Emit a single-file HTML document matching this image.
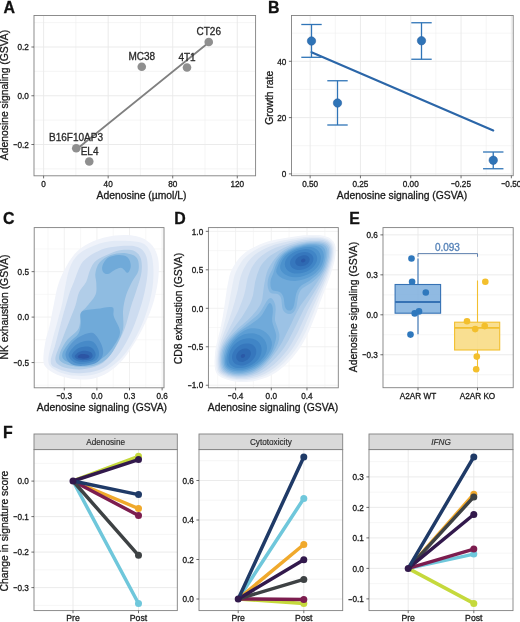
<!DOCTYPE html>
<html lang="en"><head><meta charset="utf-8"><title>Figure</title>
<style>html,body{margin:0;padding:0;background:#fff}svg{display:block}text{font-family:"Liberation Sans",Arial,Helvetica,sans-serif;stroke-width:0.3px}</style>
</head><body>
<svg width="520" height="622" viewBox="0 0 520 622">
<rect width="520" height="622" fill="#fff"/>
<g id="panelA">
<rect x="34" y="15.5" width="221.6" height="160.3" fill="#fff"/>
<line x1="75.88" y1="15.5" x2="75.88" y2="175.8" stroke="#eeeeee" stroke-width="0.6" />
<line x1="140.44" y1="15.5" x2="140.44" y2="175.8" stroke="#eeeeee" stroke-width="0.6" />
<line x1="205" y1="15.5" x2="205" y2="175.8" stroke="#eeeeee" stroke-width="0.6" />
<line x1="34" y1="22.62" x2="255.6" y2="22.62" stroke="#eeeeee" stroke-width="0.6" />
<line x1="34" y1="71.38" x2="255.6" y2="71.38" stroke="#eeeeee" stroke-width="0.6" />
<line x1="34" y1="120.12" x2="255.6" y2="120.12" stroke="#eeeeee" stroke-width="0.6" />
<line x1="34" y1="168.88" x2="255.6" y2="168.88" stroke="#eeeeee" stroke-width="0.6" />
<line x1="43.6" y1="15.5" x2="43.6" y2="175.8" stroke="#e9e9e9" stroke-width="0.9" />
<line x1="108.16" y1="15.5" x2="108.16" y2="175.8" stroke="#e9e9e9" stroke-width="0.9" />
<line x1="172.72" y1="15.5" x2="172.72" y2="175.8" stroke="#e9e9e9" stroke-width="0.9" />
<line x1="237.28" y1="15.5" x2="237.28" y2="175.8" stroke="#e9e9e9" stroke-width="0.9" />
<line x1="34" y1="47" x2="255.6" y2="47" stroke="#e9e9e9" stroke-width="0.9" />
<line x1="34" y1="95.75" x2="255.6" y2="95.75" stroke="#e9e9e9" stroke-width="0.9" />
<line x1="34" y1="144.5" x2="255.6" y2="144.5" stroke="#e9e9e9" stroke-width="0.9" />
<line x1="77.5" y1="148.5" x2="208.75" y2="42.5" stroke="#808080" stroke-width="1.7" stroke-linecap="round"/>
<circle cx="208.75" cy="42" r="4.3" fill="#8f8f8f"/>
<circle cx="187" cy="67.5" r="4.3" fill="#8f8f8f"/>
<circle cx="141.75" cy="66.75" r="4.3" fill="#8f8f8f"/>
<circle cx="76.25" cy="148.25" r="4.3" fill="#8f8f8f"/>
<circle cx="89.25" cy="161.5" r="4.3" fill="#8f8f8f"/>
<text x="208.75" y="34.5" font-size="10" text-anchor="middle" fill="#2a2a2a" stroke="#2a2a2a" >CT26</text>
<text x="187" y="61" font-size="10" text-anchor="middle" fill="#2a2a2a" stroke="#2a2a2a" >4T1</text>
<text x="141.75" y="60" font-size="10" text-anchor="middle" fill="#2a2a2a" stroke="#2a2a2a" >MC38</text>
<text x="76" y="141.25" font-size="10" text-anchor="middle" fill="#2a2a2a" stroke="#2a2a2a" >B16F10AP3</text>
<text x="89.6" y="154.5" font-size="10" text-anchor="middle" fill="#2a2a2a" stroke="#2a2a2a" >EL4</text>
<rect x="34" y="15.5" width="221.6" height="160.3" fill="none" stroke="#808080" stroke-width="0.9"/>
<line x1="43.6" y1="175.8" x2="43.6" y2="178.4" stroke="#333" stroke-width="0.7" />
<text x="43.6" y="186.8" font-size="8.2" text-anchor="middle" fill="#1a1a1a" stroke="#1a1a1a" >0</text>
<line x1="108.16" y1="175.8" x2="108.16" y2="178.4" stroke="#333" stroke-width="0.7" />
<text x="108.16" y="186.8" font-size="8.2" text-anchor="middle" fill="#1a1a1a" stroke="#1a1a1a" >40</text>
<line x1="172.72" y1="175.8" x2="172.72" y2="178.4" stroke="#333" stroke-width="0.7" />
<text x="172.72" y="186.8" font-size="8.2" text-anchor="middle" fill="#1a1a1a" stroke="#1a1a1a" >80</text>
<line x1="237.28" y1="175.8" x2="237.28" y2="178.4" stroke="#333" stroke-width="0.7" />
<text x="237.28" y="186.8" font-size="8.2" text-anchor="middle" fill="#1a1a1a" stroke="#1a1a1a" >120</text>
<line x1="31.4" y1="47" x2="34" y2="47" stroke="#333" stroke-width="0.7" />
<text x="28.8" y="50.2" font-size="8.2" text-anchor="end" fill="#1a1a1a" stroke="#1a1a1a" >0.2</text>
<line x1="31.4" y1="95.75" x2="34" y2="95.75" stroke="#333" stroke-width="0.7" />
<text x="28.8" y="98.95" font-size="8.2" text-anchor="end" fill="#1a1a1a" stroke="#1a1a1a" >0.0</text>
<line x1="31.4" y1="144.5" x2="34" y2="144.5" stroke="#333" stroke-width="0.7" />
<text x="28.8" y="147.7" font-size="8.2" text-anchor="end" fill="#1a1a1a" stroke="#1a1a1a" ><tspan font-size="6.7" dy="-0.5">−</tspan><tspan dy="0.5">0.2</tspan></text>
<text x="141.5" y="199.2" font-size="10.35" text-anchor="middle" fill="#1a1a1a" stroke="#1a1a1a" >Adenosine (µmol/L)</text>
<text transform="translate(7.8 95) rotate(-90)" font-size="10.35" text-anchor="middle" fill="#1a1a1a" stroke="#1a1a1a">Adenosine signaling (GSVA)</text>
<text x="3.4" y="12.9" font-size="15.9" text-anchor="start" fill="#111" stroke="#111" font-weight="bold">A</text>
</g>
<g id="panelB">
<rect x="291.5" y="15.5" width="221.7" height="160.2" fill="#fff"/>
<line x1="335.3" y1="15.5" x2="335.3" y2="175.7" stroke="#eeeeee" stroke-width="0.6" />
<line x1="385.6" y1="15.5" x2="385.6" y2="175.7" stroke="#eeeeee" stroke-width="0.6" />
<line x1="435.9" y1="15.5" x2="435.9" y2="175.7" stroke="#eeeeee" stroke-width="0.6" />
<line x1="486.2" y1="15.5" x2="486.2" y2="175.7" stroke="#eeeeee" stroke-width="0.6" />
<line x1="291.5" y1="145.75" x2="513.2" y2="145.75" stroke="#eeeeee" stroke-width="0.6" />
<line x1="291.5" y1="89.45" x2="513.2" y2="89.45" stroke="#eeeeee" stroke-width="0.6" />
<line x1="291.5" y1="33.15" x2="513.2" y2="33.15" stroke="#eeeeee" stroke-width="0.6" />
<line x1="310.15" y1="15.5" x2="310.15" y2="175.7" stroke="#e9e9e9" stroke-width="0.9" />
<line x1="360.45" y1="15.5" x2="360.45" y2="175.7" stroke="#e9e9e9" stroke-width="0.9" />
<line x1="410.75" y1="15.5" x2="410.75" y2="175.7" stroke="#e9e9e9" stroke-width="0.9" />
<line x1="461.05" y1="15.5" x2="461.05" y2="175.7" stroke="#e9e9e9" stroke-width="0.9" />
<line x1="511.35" y1="15.5" x2="511.35" y2="175.7" stroke="#e9e9e9" stroke-width="0.9" />
<line x1="291.5" y1="173.9" x2="513.2" y2="173.9" stroke="#e9e9e9" stroke-width="0.9" />
<line x1="291.5" y1="117.6" x2="513.2" y2="117.6" stroke="#e9e9e9" stroke-width="0.9" />
<line x1="291.5" y1="61.3" x2="513.2" y2="61.3" stroke="#e9e9e9" stroke-width="0.9" />
<line x1="311.5" y1="52.2" x2="493.25" y2="130.5" stroke="#2b66a8" stroke-width="2.1" stroke-linecap="round"/>
<line x1="311.5" y1="24.5" x2="311.5" y2="57.3" stroke="#2f74b7" stroke-width="1.3" />
<line x1="301.3" y1="24.5" x2="321.7" y2="24.5" stroke="#2f74b7" stroke-width="1.3" />
<line x1="301.3" y1="57.3" x2="321.7" y2="57.3" stroke="#2f74b7" stroke-width="1.3" />
<circle cx="311.5" cy="41" r="4.2" fill="#2f74b7" stroke="#2a63a4" stroke-width="0.6"/>
<line x1="337.5" y1="80.75" x2="337.5" y2="125" stroke="#2f74b7" stroke-width="1.3" />
<line x1="327.3" y1="80.75" x2="347.7" y2="80.75" stroke="#2f74b7" stroke-width="1.3" />
<line x1="327.3" y1="125" x2="347.7" y2="125" stroke="#2f74b7" stroke-width="1.3" />
<circle cx="337.5" cy="103" r="4.2" fill="#2f74b7" stroke="#2a63a4" stroke-width="0.6"/>
<line x1="421.5" y1="22.75" x2="421.5" y2="59.25" stroke="#2f74b7" stroke-width="1.3" />
<line x1="411.3" y1="22.75" x2="431.7" y2="22.75" stroke="#2f74b7" stroke-width="1.3" />
<line x1="411.3" y1="59.25" x2="431.7" y2="59.25" stroke="#2f74b7" stroke-width="1.3" />
<circle cx="421.5" cy="40.75" r="4.2" fill="#2f74b7" stroke="#2a63a4" stroke-width="0.6"/>
<line x1="493.25" y1="152" x2="493.25" y2="168.75" stroke="#2f74b7" stroke-width="1.3" />
<line x1="483.05" y1="152" x2="503.45" y2="152" stroke="#2f74b7" stroke-width="1.3" />
<line x1="483.05" y1="168.75" x2="503.45" y2="168.75" stroke="#2f74b7" stroke-width="1.3" />
<circle cx="493.25" cy="160.25" r="4.2" fill="#2f74b7" stroke="#2a63a4" stroke-width="0.6"/>
<rect x="291.5" y="15.5" width="221.7" height="160.2" fill="none" stroke="#808080" stroke-width="0.9"/>
<line x1="310.15" y1="175.7" x2="310.15" y2="178.3" stroke="#333" stroke-width="0.7" />
<text x="310.15" y="186.7" font-size="8.2" text-anchor="middle" fill="#1a1a1a" stroke="#1a1a1a" >0.50</text>
<line x1="360.45" y1="175.7" x2="360.45" y2="178.3" stroke="#333" stroke-width="0.7" />
<text x="360.45" y="186.7" font-size="8.2" text-anchor="middle" fill="#1a1a1a" stroke="#1a1a1a" >0.25</text>
<line x1="410.75" y1="175.7" x2="410.75" y2="178.3" stroke="#333" stroke-width="0.7" />
<text x="410.75" y="186.7" font-size="8.2" text-anchor="middle" fill="#1a1a1a" stroke="#1a1a1a" >0.00</text>
<line x1="461.05" y1="175.7" x2="461.05" y2="178.3" stroke="#333" stroke-width="0.7" />
<text x="461.05" y="186.7" font-size="8.2" text-anchor="middle" fill="#1a1a1a" stroke="#1a1a1a" ><tspan font-size="6.7" dy="-0.5">−</tspan><tspan dy="0.5">0.25</tspan></text>
<line x1="511.35" y1="175.7" x2="511.35" y2="178.3" stroke="#333" stroke-width="0.7" />
<text x="511.35" y="186.7" font-size="8.2" text-anchor="middle" fill="#1a1a1a" stroke="#1a1a1a" ><tspan font-size="6.7" dy="-0.5">−</tspan><tspan dy="0.5">0.50</tspan></text>
<line x1="288.9" y1="173.9" x2="291.5" y2="173.9" stroke="#333" stroke-width="0.7" />
<text x="286.3" y="177.1" font-size="8.2" text-anchor="end" fill="#1a1a1a" stroke="#1a1a1a" >0</text>
<line x1="288.9" y1="117.6" x2="291.5" y2="117.6" stroke="#333" stroke-width="0.7" />
<text x="286.3" y="120.8" font-size="8.2" text-anchor="end" fill="#1a1a1a" stroke="#1a1a1a" >20</text>
<line x1="288.9" y1="61.3" x2="291.5" y2="61.3" stroke="#333" stroke-width="0.7" />
<text x="286.3" y="64.5" font-size="8.2" text-anchor="end" fill="#1a1a1a" stroke="#1a1a1a" >40</text>
<text x="402" y="199.2" font-size="10.35" text-anchor="middle" fill="#1a1a1a" stroke="#1a1a1a" >Adenosine signaling (GSVA)</text>
<text transform="translate(273.3 97.8) rotate(-90)" font-size="10.35" text-anchor="middle" fill="#1a1a1a" stroke="#1a1a1a">Growth rate</text>
<text x="268" y="12.5" font-size="15.9" text-anchor="start" fill="#111" stroke="#111" font-weight="bold">B</text>
</g>
<g id="panelC">
<rect x="34.2" y="227.6" width="129.8" height="160.2" fill="#fff"/>
<line x1="47.99" y1="227.6" x2="47.99" y2="387.8" stroke="#f4f4f4" stroke-width="0.6" />
<line x1="80.59" y1="227.6" x2="80.59" y2="387.8" stroke="#f4f4f4" stroke-width="0.6" />
<line x1="113.21" y1="227.6" x2="113.21" y2="387.8" stroke="#f4f4f4" stroke-width="0.6" />
<line x1="145.81" y1="227.6" x2="145.81" y2="387.8" stroke="#f4f4f4" stroke-width="0.6" />
<line x1="34.2" y1="248.93" x2="164" y2="248.93" stroke="#f4f4f4" stroke-width="0.6" />
<line x1="34.2" y1="294.38" x2="164" y2="294.38" stroke="#f4f4f4" stroke-width="0.6" />
<line x1="34.2" y1="339.83" x2="164" y2="339.83" stroke="#f4f4f4" stroke-width="0.6" />
<line x1="34.2" y1="385.28" x2="164" y2="385.28" stroke="#f4f4f4" stroke-width="0.6" />
<line x1="64.29" y1="227.6" x2="64.29" y2="387.8" stroke="#efefef" stroke-width="0.9" />
<line x1="96.9" y1="227.6" x2="96.9" y2="387.8" stroke="#efefef" stroke-width="0.9" />
<line x1="129.51" y1="227.6" x2="129.51" y2="387.8" stroke="#efefef" stroke-width="0.9" />
<line x1="162.12" y1="227.6" x2="162.12" y2="387.8" stroke="#efefef" stroke-width="0.9" />
<line x1="34.2" y1="271.65" x2="164" y2="271.65" stroke="#efefef" stroke-width="0.9" />
<line x1="34.2" y1="317.1" x2="164" y2="317.1" stroke="#efefef" stroke-width="0.9" />
<line x1="34.2" y1="362.55" x2="164" y2="362.55" stroke="#efefef" stroke-width="0.9" />
<path d="M43.38 359.62C43.23 355.41 44.21 348.03 45.23 342.38C46.26 336.74 48.1 332.13 49.54 325.77C50.97 319.41 52.41 311.05 53.85 304.23C55.28 297.41 56.26 290.79 58.15 284.85C60.05 278.9 62.21 273.97 65.23 268.54C68.26 263.1 71.74 256.74 76.31 252.23C80.87 247.72 86.21 244.23 92.62 241.46C99.03 238.69 107.44 236.49 114.77 235.62C122.1 234.74 130.67 234.9 136.62 236.23C142.56 237.56 146.92 240.08 150.46 243.62C154 247.15 156.51 251.97 157.85 257.46C159.18 262.95 159.03 269.67 158.46 276.54C157.9 283.41 156.26 291.82 154.46 298.69C152.67 305.56 150.41 311.41 147.69 317.77C144.97 324.13 141.79 330.49 138.15 336.85C134.51 343.21 130.21 350.44 125.85 355.92C121.49 361.41 117.03 366.08 112 369.77C106.97 373.46 101.59 376.49 95.69 378.08C89.79 379.67 83.03 379.87 76.62 379.31C70.21 378.74 62.31 376.64 57.23 374.69C52.15 372.74 48.46 370.13 46.15 367.62C43.85 365.1 43.54 363.82 43.38 359.62Z" fill="#f0f3fa"/>
<path d="M48.31 361.46C47.85 357 50.15 349.41 51.69 342.69C53.23 335.97 55.79 327.67 57.54 321.15C59.28 314.64 60.92 309.1 62.15 303.62C63.38 298.13 63.74 293.97 64.92 288.23C66.1 282.49 67.18 274.59 69.23 269.15C71.28 263.72 73.64 259.31 77.23 255.62C80.82 251.92 85.28 249.41 90.77 247C96.26 244.59 102.21 241.97 110.15 241.15C118.1 240.33 131.95 240.64 138.46 242.08C144.97 243.51 146.77 245.82 149.23 249.77C151.69 253.72 152.72 259.26 153.23 265.77C153.74 272.28 153.49 280.9 152.31 288.85C151.13 296.79 148.72 305.77 146.15 313.46C143.59 321.15 140.62 328.08 136.92 335C133.23 341.92 128.72 349.41 124 355C119.28 360.59 114.26 365.15 108.62 368.54C102.97 371.92 96.72 374.23 90.15 375.31C83.59 376.38 75.18 375.97 69.23 375C63.28 374.03 57.95 371.72 54.46 369.46C50.97 367.21 48.77 365.92 48.31 361.46Z" fill="#e2eaf6"/>
<path d="M50.77 361.15C50.77 357.26 53.69 350.59 55.38 344.23C57.08 337.87 59.13 329.67 60.92 323C62.72 316.33 64.67 309.41 66.15 304.23C67.64 299.05 68.51 295.77 69.85 291.92C71.18 288.08 72.62 285.1 74.15 281.15C75.69 277.21 77.44 271.67 79.08 268.23C80.72 264.79 81.38 263.1 84 260.54C86.62 257.97 90.41 255.05 94.77 252.85C99.13 250.64 103.38 248.38 110.15 247.31C116.92 246.23 129.49 245.21 135.38 246.38C141.28 247.56 143.49 250.38 145.54 254.38C147.59 258.38 147.85 264.13 147.69 270.38C147.54 276.64 146.15 284.74 144.62 291.92C143.08 299.1 141.03 306.03 138.46 313.46C135.9 320.9 132.82 329.36 129.23 336.54C125.64 343.72 121.28 351.26 116.92 356.54C112.56 361.82 108.21 365.51 103.08 368.23C97.95 370.95 91.79 372.18 86.15 372.85C80.51 373.51 74.36 373.1 69.23 372.23C64.1 371.36 58.46 369.46 55.38 367.62C52.31 365.77 50.77 365.05 50.77 361.15Z" fill="#cddcf0"/>
<path d="M55.38 358.08C55.74 354.08 59.33 347 61.54 341.15C63.74 335.31 66.31 328.9 68.62 323C70.92 317.1 73.64 310.9 75.38 305.77C77.13 300.64 77.28 296.18 79.08 292.23C80.87 288.28 84.31 285.82 86.15 282.08C88 278.33 88.46 273.36 90.15 269.77C91.85 266.18 92.97 263.26 96.31 260.54C99.64 257.82 105.95 255.21 110.15 253.46C114.36 251.72 117.59 250.54 121.54 250.08C125.49 249.62 130.67 249.36 133.85 250.69C137.03 252.03 139.33 254.54 140.62 258.08C141.9 261.62 142.15 266.79 141.54 271.92C140.92 277.05 138.72 282.95 136.92 288.85C135.13 294.74 132.82 300.64 130.77 307.31C128.72 313.97 127.18 322.18 124.62 328.85C122.05 335.51 118.97 341.67 115.38 347.31C111.79 352.95 107.95 359.1 103.08 362.69C98.21 366.28 91.54 367.82 86.15 368.85C80.77 369.87 75.23 369.46 70.77 368.85C66.31 368.23 61.95 366.95 59.38 365.15C56.82 363.36 55.03 362.08 55.38 358.08Z" fill="#b1cde8"/>
<path d="M95.38 273.46C95.9 270.03 96.82 265.77 99.38 262.69C101.95 259.62 106.31 256.59 110.77 255C115.23 253.41 121.79 252.64 126.15 253.15C130.51 253.67 134.87 255.21 136.92 258.08C138.97 260.95 139.23 266.54 138.46 270.38C137.69 274.23 134.36 277.05 132.31 281.15C130.26 285.26 127.69 290.13 126.15 295C124.62 299.87 123.59 304.74 123.08 310.38C122.56 316.03 124.1 323.21 123.08 328.85C122.05 334.49 119.49 339.36 116.92 344.23C114.36 349.1 111.54 354.49 107.69 358.08C103.85 361.67 99.23 364.38 93.85 365.77C88.46 367.15 80.77 367 75.38 366.38C70 365.77 64.21 363.97 61.54 362.08C58.87 360.18 58.62 358.49 59.38 355C60.15 351.51 62.97 345.51 66.15 341.15C69.33 336.79 76 333.46 78.46 328.85C80.92 324.23 79.64 317.05 80.92 313.46C82.21 309.87 83.74 310.38 86.15 307.31C88.56 304.23 93.69 299 95.38 295C97.08 291 96.31 286.9 96.31 283.31C96.31 279.72 94.87 276.9 95.38 273.46Z" fill="#8fbce1"/>
<path d="M102.46 265.77C103.23 263.46 105.03 259.87 107.69 258.08C110.36 256.28 115.13 255.1 118.46 255C121.79 254.9 125.64 255.67 127.69 257.46C129.74 259.26 130.77 263.21 130.77 265.77C130.77 268.33 129.23 272.49 127.69 272.85C126.15 273.21 123.85 268.33 121.54 267.92C119.23 267.51 116.15 269.36 113.85 270.38C111.54 271.41 109.49 273.82 107.69 274.08C105.9 274.33 103.95 273.31 103.08 271.92C102.21 270.54 101.69 268.08 102.46 265.77Z" fill="#70aad9"/>
<path d="M81.54 311.92C84.21 309.62 91.79 309.62 96.92 308.85C102.05 308.08 109.49 306.03 112.31 307.31C115.13 308.59 112.56 312.44 113.85 316.54C115.13 320.64 120 327.05 120 331.92C120 336.79 116.41 341.67 113.85 345.77C111.28 349.87 108.21 353.62 104.62 356.54C101.03 359.46 96.92 362.03 92.31 363.31C87.69 364.59 81.54 364.74 76.92 364.23C72.31 363.72 67.03 362.03 64.62 360.23C62.21 358.44 61.69 356.38 62.46 353.46C63.23 350.54 66.56 346.03 69.23 342.69C71.9 339.36 76.51 336.79 78.46 333.46C80.41 330.13 80.41 326.28 80.92 322.69C81.44 319.1 78.87 314.23 81.54 311.92Z" fill="#70aad9"/>
<path d="M65.54 355C65.38 351.67 68.36 347.31 70.77 344.23C73.18 341.15 76.41 338.44 80 336.54C83.59 334.64 88.87 331.82 92.31 332.85C95.74 333.87 98.82 339.26 100.62 342.69C102.41 346.13 103.59 350.23 103.08 353.46C102.56 356.69 100.62 360.03 97.54 362.08C94.46 364.13 88.92 365.41 84.62 365.77C80.31 366.13 74.87 366.03 71.69 364.23C68.51 362.44 65.69 358.33 65.54 355Z" fill="#5a98d0"/>
<path d="M68.62 355.31C68.46 352.64 71.54 348.95 73.85 346.69C76.15 344.44 79.28 342.59 82.46 341.77C85.64 340.95 90.21 340.23 92.92 341.77C95.64 343.31 98.1 348.03 98.77 351C99.44 353.97 99.03 357.51 96.92 359.62C94.82 361.72 89.85 363.1 86.15 363.62C82.46 364.13 77.69 364.08 74.77 362.69C71.85 361.31 68.77 357.97 68.62 355.31Z" fill="#478ac8"/>
<path d="M71.69 355.62C71.9 353.77 74.56 350.64 76.62 349.15C78.67 347.67 81.44 346.9 84 346.69C86.56 346.49 90.05 346.64 92 347.92C93.95 349.21 95.59 352.38 95.69 354.38C95.79 356.38 94.67 358.69 92.62 359.92C90.56 361.15 86.26 361.72 83.38 361.77C80.51 361.82 77.33 361.26 75.38 360.23C73.44 359.21 71.49 357.46 71.69 355.62Z" fill="#3a7abe"/>
<path d="M74.77 355.92C75.08 354.74 77.33 352.79 79.08 351.92C80.82 351.05 83.28 350.64 85.23 350.69C87.18 350.74 89.54 351.36 90.77 352.23C92 353.1 92.82 354.74 92.62 355.92C92.41 357.1 91.18 358.59 89.54 359.31C87.9 360.03 84.82 360.28 82.77 360.23C80.72 360.18 78.56 359.72 77.23 359C75.9 358.28 74.46 357.1 74.77 355.92Z" fill="#3168b2"/>
<path d="M77.85 356.23C78.26 355.56 79.9 354.33 81.54 354.08C83.18 353.82 86.41 354.18 87.69 354.69C88.97 355.21 89.85 356.49 89.23 357.15C88.62 357.82 85.69 358.54 84 358.69C82.31 358.85 80.1 358.49 79.08 358.08C78.05 357.67 77.44 356.9 77.85 356.23Z" fill="#2c55a4"/>
<rect x="34.2" y="227.6" width="129.8" height="160.2" fill="none" stroke="#808080" stroke-width="0.9"/>
<line x1="64.29" y1="387.8" x2="64.29" y2="390.4" stroke="#333" stroke-width="0.7" />
<text x="64.29" y="398.8" font-size="8.2" text-anchor="middle" fill="#1a1a1a" stroke="#1a1a1a" ><tspan font-size="6.7" dy="-0.5">−</tspan><tspan dy="0.5">0.3</tspan></text>
<line x1="96.9" y1="387.8" x2="96.9" y2="390.4" stroke="#333" stroke-width="0.7" />
<text x="96.9" y="398.8" font-size="8.2" text-anchor="middle" fill="#1a1a1a" stroke="#1a1a1a" >0.0</text>
<line x1="129.51" y1="387.8" x2="129.51" y2="390.4" stroke="#333" stroke-width="0.7" />
<text x="129.51" y="398.8" font-size="8.2" text-anchor="middle" fill="#1a1a1a" stroke="#1a1a1a" >0.3</text>
<line x1="162.12" y1="387.8" x2="162.12" y2="390.4" stroke="#333" stroke-width="0.7" />
<text x="162.12" y="398.8" font-size="8.2" text-anchor="middle" fill="#1a1a1a" stroke="#1a1a1a" >0.6</text>
<line x1="31.6" y1="271.65" x2="34.2" y2="271.65" stroke="#333" stroke-width="0.7" />
<text x="29" y="274.85" font-size="8.2" text-anchor="end" fill="#1a1a1a" stroke="#1a1a1a" >0.5</text>
<line x1="31.6" y1="317.1" x2="34.2" y2="317.1" stroke="#333" stroke-width="0.7" />
<text x="29" y="320.3" font-size="8.2" text-anchor="end" fill="#1a1a1a" stroke="#1a1a1a" >0.0</text>
<line x1="31.6" y1="362.55" x2="34.2" y2="362.55" stroke="#333" stroke-width="0.7" />
<text x="29" y="365.75" font-size="8.2" text-anchor="end" fill="#1a1a1a" stroke="#1a1a1a" ><tspan font-size="6.7" dy="-0.5">−</tspan><tspan dy="0.5">0.5</tspan></text>
<text x="101.9" y="411.4" font-size="10.35" text-anchor="middle" fill="#1a1a1a" stroke="#1a1a1a" >Adenosine signaling (GSVA)</text>
<text transform="translate(7.8 307) rotate(-90)" font-size="10.35" text-anchor="middle" fill="#1a1a1a" stroke="#1a1a1a">NK exhaustion (GSVA)</text>
<text x="2.9" y="224.4" font-size="15.9" text-anchor="start" fill="#111" stroke="#111" font-weight="bold">C</text>
</g>
<g id="panelD">
<rect x="208.4" y="227.6" width="129.9" height="160.2" fill="#fff"/>
<line x1="217.78" y1="227.6" x2="217.78" y2="387.8" stroke="#f4f4f4" stroke-width="0.6" />
<line x1="253.46" y1="227.6" x2="253.46" y2="387.8" stroke="#f4f4f4" stroke-width="0.6" />
<line x1="289.14" y1="227.6" x2="289.14" y2="387.8" stroke="#f4f4f4" stroke-width="0.6" />
<line x1="324.82" y1="227.6" x2="324.82" y2="387.8" stroke="#f4f4f4" stroke-width="0.6" />
<line x1="208.4" y1="250.59" x2="338.3" y2="250.59" stroke="#f4f4f4" stroke-width="0.6" />
<line x1="208.4" y1="289.06" x2="338.3" y2="289.06" stroke="#f4f4f4" stroke-width="0.6" />
<line x1="208.4" y1="327.54" x2="338.3" y2="327.54" stroke="#f4f4f4" stroke-width="0.6" />
<line x1="208.4" y1="366.01" x2="338.3" y2="366.01" stroke="#f4f4f4" stroke-width="0.6" />
<line x1="235.62" y1="227.6" x2="235.62" y2="387.8" stroke="#efefef" stroke-width="0.9" />
<line x1="271.3" y1="227.6" x2="271.3" y2="387.8" stroke="#efefef" stroke-width="0.9" />
<line x1="306.98" y1="227.6" x2="306.98" y2="387.8" stroke="#efefef" stroke-width="0.9" />
<line x1="208.4" y1="231.35" x2="338.3" y2="231.35" stroke="#efefef" stroke-width="0.9" />
<line x1="208.4" y1="269.82" x2="338.3" y2="269.82" stroke="#efefef" stroke-width="0.9" />
<line x1="208.4" y1="308.3" x2="338.3" y2="308.3" stroke="#efefef" stroke-width="0.9" />
<line x1="208.4" y1="346.78" x2="338.3" y2="346.78" stroke="#efefef" stroke-width="0.9" />
<line x1="208.4" y1="385.25" x2="338.3" y2="385.25" stroke="#efefef" stroke-width="0.9" />
<defs><clipPath id="clipD"><rect x="208.5" y="227.5" width="129.8" height="160.7"/></clipPath></defs>
<g clip-path="url(#clipD)"><g>
<path d="M218.5 375.5L217.0 373.9L215.9 372.0L215.1 369.5L214.7 366.5L214.5 362.2L214.7 357.8L215.1 352.5L215.9 347.0L216.7 343.2L220.0 330.2L222.6 317.5L224.2 307.4L227.0 288.0L229.4 276.0L230.6 272.2L233.0 267.2L235.9 262.5L239.1 258.2L241.8 255.4L245.8 252.1L250.0 249.3L253.5 247.4L259.0 244.7L263.5 242.9L267.8 241.5L275.0 239.8L283.8 238.2L294.8 236.4L303.5 235.3L311.8 234.9L319.0 235.1L323.8 235.8L328.2 237.3L329.8 238.1L331.2 239.2L333.4 241.5L334.9 244.2L335.6 247.2L335.8 251.0L335.5 255.0L334.6 260.5L332.9 267.2L330.7 274.2L327.9 282.2L319.5 304.1L316.9 311.8L309.1 331.2L305.3 338.8L300.6 347.0L297.6 351.2L292.9 357.2L290.2 360.2L285.2 365.2L279.8 369.8L276.0 372.6L271.2 375.3L267.2 377.2L261.8 379.1L256.5 380.6L252.2 381.4L245.8 382.0L240.0 382.1L235.8 381.7L231.2 380.8L226.0 379.3L221.5 377.4Z" fill="#f1f4fa"/>
<path d="M219.8 374.3L218.3 372.8L217.3 371.0L216.7 368.8L216.3 365.8L216.2 361.5L216.4 356.8L216.9 351.8L217.7 347.2L218.8 342.5L222.9 328.8L225.8 317.2L228.7 304.5L233.4 280.0L234.5 275.5L235.8 272.0L238.0 267.5L241.0 262.5L243.1 259.5L246.3 256.2L251.2 252.5L254.7 250.2L260.2 247.2L264.8 245.2L268.5 243.9L281.2 240.8L291.8 238.9L301.2 237.5L305.0 237.0L312.5 236.6L318.5 236.8L323.2 237.5L327.2 238.7L330.1 240.5L332.2 242.8L333.5 245.2L334.1 248.0L334.2 251.8L333.7 256.8L332.9 261.0L331.4 266.5L329.1 273.5L326.4 281.0L320.7 294.8L309.5 323.1L306.6 330.0L302.3 338.5L298.6 345.0L295.8 349.2L291.2 355.2L287.9 359.0L283.7 363.2L278.8 367.5L274.8 370.5L270.7 373.0L266.2 375.3L261.8 377.0L256.8 378.6L252.0 379.6L246.2 380.3L240.5 380.4L236.5 380.1L232.0 379.3L226.8 377.9L222.8 376.2Z" fill="#e5ecf6"/>
<path d="M220.8 373.4L219.4 372.0L218.5 370.3L217.9 368.0L217.6 365.0L217.5 360.8L217.7 356.2L218.3 351.5L219.1 347.5L221.2 340.3L228.9 320.0L232.1 310.5L234.8 301.5L237.8 289.8L239.4 281.2L240.9 275.8L242.6 271.2L244.0 268.2L246.5 263.9L248.3 261.2L251.8 257.5L254.5 255.1L258.0 252.5L261.8 250.3L266.8 247.8L270.4 246.2L275.2 244.6L282.2 242.7L290.1 241.0L299.2 239.4L305.0 238.6L311.8 238.0L317.8 238.1L322.5 238.6L326.5 239.8L329.2 241.4L331.2 243.5L332.3 245.8L332.9 248.5L333.0 252.0L332.5 256.8L331.7 260.8L330.1 266.5L328.0 272.7L325.8 278.5L323.0 285.0L311.3 310.8L303.0 330.0L300.0 335.9L295.2 344.5L292.3 349.0L288.5 354.0L282.0 361.2L277.1 365.8L273.5 368.5L269.8 371.0L265.0 373.7L260.8 375.5L256.5 377.0L251.8 378.1L246.5 378.9L241.0 379.0L236.8 378.9L232.2 378.2L227.5 376.9L223.7 375.2Z" fill="#d6e2f2"/>
<path d="M222.0 372.7L220.6 371.2L219.7 369.5L219.1 367.0L218.7 363.5L218.6 359.5L218.9 355.5L219.5 351.2L220.4 347.5L221.6 344.0L223.4 340.0L238.1 311.0L242.0 301.2L244.1 295.0L245.6 288.8L246.9 281.5L247.7 278.0L248.6 275.2L250.6 270.0L251.8 267.5L253.5 264.7L256.4 260.8L258.5 258.5L262.0 255.4L266.7 252.2L270.7 250.0L275.5 247.8L281.5 245.8L292.5 242.6L299.0 241.1L304.0 240.3L310.5 239.6L315.0 239.5L319.5 239.6L323.0 240.1L326.2 241.2L328.5 242.6L330.2 244.5L331.2 246.6L331.8 249.2L331.8 252.5L331.4 256.8L330.6 260.5L328.9 266.2L327.0 271.5L324.3 278.0L321.2 284.3L308.1 309.8L297.8 332.2L291.6 343.5L287.8 349.4L284.6 353.5L280.5 358.2L275.9 362.8L273.7 364.8L269.1 368.2L265.8 370.5L261.8 372.8L258.0 374.5L254.8 375.6L250.6 376.8L245.8 377.5L240.8 377.8L236.8 377.7L232.8 377.1L228.2 375.9L225.0 374.5Z" fill="#c5d8ee"/>
<path d="M223.2 371.9L221.9 370.5L220.9 368.5L220.2 365.8L219.8 362.0L219.7 358.0L220.1 354.2L220.8 350.5L221.9 347.0L223.5 343.4L225.9 339.2L233.6 328.0L241.8 317.2L247.1 308.5L249.9 303.5L251.5 299.8L253.0 295.2L255.1 282.0L257.2 274.3L259.9 267.5L261.2 265.2L263.0 262.8L267.5 258.1L270.5 255.6L273.0 253.9L278.9 250.5L284.5 247.6L289.2 245.6L294.0 244.0L299.2 242.6L304.5 241.7L310.0 241.1L314.8 240.9L319.0 241.0L322.2 241.4L325.2 242.3L327.5 243.7L329.0 245.3L330.1 247.5L330.5 250.0L330.5 253.0L330.1 256.8L329.4 260.2L327.6 266.2L326.0 270.4L322.0 278.5L317.8 286.3L304.2 308.5L296.0 325.6L288.2 341.0L284.0 347.7L280.8 352.0L276.7 356.8L273.6 360.0L270.0 363.5L266.0 367.0L262.6 369.5L259.0 371.8L256.2 373.2L252.8 374.5L249.2 375.5L245.0 376.3L240.5 376.6L236.8 376.5L233.0 376.0L229.0 374.9L226.0 373.6Z" fill="#b1cde9"/>
<path d="M224.6 371.2L223.1 369.8L222.0 367.8L221.3 365.0L220.9 361.5L221.0 357.2L221.5 353.2L222.2 349.9L223.5 346.4L226.3 341.5L230.0 336.7L233.2 333.2L238.2 328.3L247.3 320.5L251.8 316.0L256.7 310.2L259.7 305.8L261.3 302.5L262.3 299.2L264.0 285.8L265.6 277.2L266.7 273.0L267.8 270.0L269.2 267.2L272.6 261.8L274.8 258.8L277.4 255.8L279.5 253.6L281.8 251.8L284.7 249.8L287.3 248.2L291.0 246.6L294.2 245.4L297.5 244.4L301.8 243.5L306.5 242.6L311.2 242.2L315.8 242.1L319.2 242.2L321.8 242.7L324.3 243.5L326.2 244.7L327.7 246.2L328.7 248.2L329.1 250.5L329.1 253.8L328.7 257.2L327.7 261.2L326.0 266.9L324.6 270.2L320.5 277.3L315.0 285.6L309.2 293.8L301.9 303.5L300.0 306.3L294.6 316.5L291.4 323.5L282.1 342.2L277.5 349.8L271.4 358.0L265.5 364.5L260.8 368.5L258.0 370.3L255.8 371.6L252.7 373.0L249.7 374.0L246.0 374.9L242.2 375.3L239.0 375.5L235.5 375.2L232.5 374.7L229.2 373.8L226.8 372.7Z" fill="#9cc2e5"/>
<path d="M286.2 313.3L285.1 312.5L284.1 311.5L283.2 310.2L282.6 309.0L282.1 306.5L281.4 299.5L280.8 297.5L280.0 296.0L278.8 294.8L277.5 294.1L276.0 293.8L272.5 293.6L271.5 293.3L270.5 292.8L269.7 292.0L269.0 291.0L267.9 287.8L267.6 285.5L267.6 283.0L267.9 280.2L268.5 277.8L269.7 274.5L272.5 269.0L274.3 264.0L275.5 261.5L276.9 259.2L279.0 256.8L281.0 254.7L283.5 252.5L285.8 250.9L288.2 249.4L291.8 247.7L294.5 246.6L298.8 245.3L303.2 244.3L307.0 243.6L311.0 243.2L315.0 243.2L318.8 243.4L321.2 243.9L323.5 244.8L325.5 246.2L326.7 248.0L327.4 250.0L327.5 252.8L327.2 256.8L326.4 261.0L324.8 266.4L323.2 270.0L321.8 272.3L319.5 275.4L316.2 278.8L311.0 283.1L305.6 286.2L303.3 287.8L301.8 289.1L300.5 290.5L299.3 292.8L298.2 296.0L296.8 304.8L296.3 307.2L295.1 310.0L293.8 312.0L292.2 313.3L290.5 314.0L288.2 314.0ZM226.9 371.2L224.7 369.5L223.4 367.5L222.5 364.5L222.2 360.8L222.4 356.2L223.2 351.5L224.6 347.5L226.5 343.9L230.0 339.0L235.0 333.7L240.0 329.4L255.8 316.5L258.5 314.0L261.2 310.4L266.5 301.6L268.2 299.3L269.2 298.5L270.0 298.2L271.0 298.1L271.8 298.4L272.8 299.4L273.9 301.2L274.8 303.5L275.4 305.5L275.7 309.5L275.0 317.5L275.0 320.2L275.7 322.8L277.6 328.0L278.8 332.0L279.3 334.0L279.4 336.0L279.1 339.2L278.0 343.2L275.8 348.0L272.9 353.0L269.0 358.5L266.2 361.6L263.2 364.5L260.2 366.9L257.0 369.1L254.6 370.5L251.8 371.8L248.8 372.8L245.5 373.6L242.0 374.0L238.8 374.2L235.2 373.9L232.5 373.4L229.5 372.5Z" fill="#86b7e0"/>
<path d="M287.5 310.2L286.0 308.9L285.0 307.0L284.5 304.8L283.8 298.5L283.0 296.0L281.9 294.0L280.5 292.5L279.0 291.7L277.5 291.3L274.0 290.8L272.6 290.2L272.0 289.7L271.3 288.8L270.6 286.5L270.4 282.5L270.9 279.0L273.4 273.0L275.5 266.2L277.8 261.2L279.2 259.0L280.7 257.0L282.6 255.0L284.5 253.3L289.0 250.3L292.5 248.6L295.0 247.5L298.8 246.4L303.0 245.3L306.8 244.6L310.4 244.2L313.8 244.2L316.8 244.4L319.5 245.0L321.5 245.8L323.2 247.0L324.7 249.0L325.4 251.0L325.7 253.8L325.6 257.0L325.0 260.5L323.7 265.0L322.2 268.2L321.2 270.0L319.8 271.8L317.3 274.5L315.2 276.3L309.2 280.9L302.0 285.1L299.4 287.5L297.6 290.2L296.3 293.5L295.6 296.5L294.1 305.0L293.1 308.0L291.9 309.5L290.5 310.4L289.0 310.6ZM227.5 369.8L225.5 368.1L224.3 366.0L223.7 362.8L223.6 358.8L224.1 354.8L225.1 350.8L226.5 347.2L228.5 343.8L230.6 340.8L232.9 338.0L235.4 335.2L237.8 333.1L242.5 329.6L250.2 324.8L257.5 319.4L259.7 317.5L261.3 315.8L262.6 314.0L268.2 304.2L269.5 303.1L270.2 303.1L270.8 303.4L271.5 304.2L272.0 305.2L272.5 306.8L272.8 308.8L272.8 312.2L272.1 318.8L272.3 322.0L272.9 324.2L275.6 332.5L276.1 334.8L276.2 336.8L275.7 340.0L273.4 348.0L271.9 351.5L270.0 354.8L268.3 357.2L266.0 359.8L263.5 362.3L261.0 364.5L258.0 366.7L255.2 368.4L252.5 369.8L249.5 371.0L246.8 371.8L243.5 372.5L240.5 372.8L237.8 372.7L234.8 372.4L232.2 371.9L229.8 371.0Z" fill="#70aada"/>
<path d="M277.0 273.7L276.5 272.7L276.2 271.6L276.5 269.2L279.3 262.2L281.2 258.8L283.1 256.2L285.5 254.0L288.5 251.9L292.4 249.8L296.8 248.0L302.5 246.4L308.0 245.5L312.5 245.4L316.0 245.8L318.6 246.8L321.0 248.6L322.7 251.0L323.3 252.5L323.7 254.2L323.8 257.8L322.8 262.2L321.2 266.1L319.2 269.2L315.8 272.8L313.0 274.9L309.0 277.2L304.8 279.0L300.0 280.3L295.2 280.9L290.8 280.7L286.8 280.0L282.2 278.2L279.2 276.2L278.0 275.0ZM227.0 367.5L226.0 366.2L225.4 364.8L225.0 362.8L224.9 360.5L225.1 358.0L225.5 355.5L227.2 349.8L229.2 345.5L232.5 340.7L236.0 336.9L240.0 333.5L244.1 330.8L247.2 329.2L250.8 328.3L254.5 328.2L259.5 329.1L262.8 330.4L266.2 332.8L269.0 335.8L270.8 338.8L271.8 342.0L271.9 345.0L271.1 348.5L269.2 352.4L266.2 357.0L262.9 360.8L259.2 364.0L255.1 366.8L251.0 368.8L246.8 370.3L242.0 371.2L237.5 371.3L233.5 370.7L229.8 369.4L228.2 368.5Z" fill="#5d9ed4"/>
<path d="M281.2 270.8L280.6 269.5L280.2 268.2L280.2 265.8L281.1 262.8L283.0 259.1L285.0 256.5L287.4 254.2L290.4 252.2L294.2 250.2L298.2 248.8L303.1 247.5L307.5 247.0L311.0 247.0L313.8 247.8L316.5 249.2L318.5 251.1L319.9 253.5L320.8 256.2L320.8 259.0L320.1 262.0L318.8 265.0L316.8 267.7L314.0 270.5L310.5 273.0L307.5 274.6L303.5 276.0L299.8 276.9L295.8 277.2L291.8 276.9L288.8 276.2L285.5 274.7L283.1 273.0ZM228.1 366.2L227.3 365.2L226.8 364.0L226.5 362.4L226.4 360.5L226.9 356.0L228.2 351.2L230.0 347.2L232.2 343.7L235.0 340.3L238.2 337.5L241.5 335.4L244.2 334.2L248.5 333.4L252.5 333.2L256.2 333.9L259.5 335.2L262.0 337.0L264.3 339.5L265.8 342.2L266.8 345.5L267.0 348.5L266.5 351.5L265.3 354.5L263.5 357.2L260.4 360.8L257.4 363.2L253.7 365.8L250.2 367.4L246.0 368.9L241.8 369.7L237.8 369.8L234.2 369.3L230.7 368.0L229.2 367.2Z" fill="#4d92cd"/>
<path d="M286.2 268.8L285.2 266.8L284.8 264.2L285.1 261.8L286.0 259.5L287.5 257.2L289.6 255.2L292.2 253.2L295.4 251.5L298.8 250.2L302.5 249.4L305.5 249.1L308.2 249.3L311.0 250.1L313.2 251.3L315.2 253.0L316.4 255.0L317.1 257.0L317.2 259.2L316.7 261.5L315.5 264.0L313.9 266.2L311.9 268.2L309.5 270.0L306.8 271.5L304.0 272.6L300.8 273.3L297.8 273.6L294.8 273.4L292.2 272.9L289.5 271.7L287.5 270.3ZM230.7 365.0L229.2 363.0L228.6 360.8L228.5 357.8L229.0 354.5L230.2 350.8L232.0 347.6L234.2 344.8L236.8 342.5L239.8 340.6L242.8 339.3L246.2 338.5L249.5 338.3L252.8 338.7L255.5 339.7L257.8 341.2L259.6 343.2L260.9 345.5L261.5 348.0L261.6 350.8L261.1 353.8L260.1 356.2L258.5 359.0L256.8 361.0L254.1 363.2L251.4 365.0L248.1 366.5L244.8 367.5L241.5 368.0L238.0 368.1L235.5 367.7L232.8 366.5Z" fill="#4085c6"/>
<path d="M291.1 266.5L290.3 265.0L290.0 263.2L290.2 261.2L290.9 259.5L292.0 257.9L293.6 256.2L295.6 254.8L297.8 253.5L300.0 252.7L302.5 252.2L304.8 252.0L307.0 252.3L308.8 252.8L310.6 253.8L312.0 255.0L312.9 256.5L313.4 258.0L313.4 259.8L313.0 261.5L312.1 263.2L311.0 264.8L309.5 266.2L307.8 267.5L305.8 268.6L303.8 269.3L301.5 269.8L299.5 270.0L297.5 269.9L295.5 269.5L293.7 268.8L292.2 267.8ZM234.8 363.4L233.4 362.0L232.5 360.2L232.0 358.0L232.1 355.8L232.7 353.5L233.8 351.2L235.0 349.5L237.0 347.5L239.2 345.8L241.5 344.6L244.0 343.8L246.5 343.4L248.8 343.4L251.0 344.0L252.8 344.8L254.3 346.2L255.4 347.8L256.1 349.5L256.3 351.5L256.1 353.8L255.4 355.8L254.4 357.8L252.9 359.8L251.2 361.4L249.2 362.9L247.2 364.1L245.0 364.9L242.8 365.4L240.5 365.5L238.2 365.1L236.5 364.5Z" fill="#3677bd"/>
<path d="M296.2 264.5L295.6 263.5L295.3 262.5L295.3 261.5L295.6 260.2L296.1 259.2L297.0 258.2L298.1 257.2L299.5 256.4L302.2 255.4L303.8 255.2L305.2 255.3L306.5 255.6L307.8 256.2L308.5 256.8L309.2 257.8L309.6 258.8L309.7 259.8L309.2 261.8L307.7 263.8L305.5 265.2L303.0 266.1L300.2 266.3L298.0 265.8L297.0 265.2ZM238.0 360.7L237.1 359.8L236.5 358.8L236.2 357.5L236.2 356.2L236.5 354.8L237.1 353.5L237.9 352.2L239.0 351.1L240.2 350.2L241.8 349.3L243.2 348.8L244.8 348.5L246.2 348.5L247.5 348.8L248.8 349.4L249.8 350.2L250.4 351.2L250.8 352.2L250.9 353.5L250.8 354.8L249.7 357.2L247.8 359.5L245.2 361.1L242.8 361.9L240.2 361.8L239.0 361.4Z" fill="#2e69b2"/>
<path d="M302.8 262.4L302.0 262.2L301.2 261.7L301.0 261.0L301.2 260.0L301.8 259.2L302.8 258.8L303.8 258.6L304.8 258.9L305.2 259.4L305.5 260.0L305.2 261.2L304.2 262.1ZM241.6 357.8L241.0 357.2L240.8 356.5L240.8 355.8L241.2 355.0L242.0 354.3L243.0 353.9L243.8 353.9L244.5 354.2L245.0 354.8L245.1 355.5L245.0 356.2L244.5 357.0L243.8 357.6L243.0 357.9Z" fill="#2a59a7"/>
</g></g>
<rect x="208.4" y="227.6" width="129.9" height="160.2" fill="none" stroke="#808080" stroke-width="0.9"/>
<line x1="235.62" y1="387.8" x2="235.62" y2="390.4" stroke="#333" stroke-width="0.7" />
<text x="235.62" y="398.8" font-size="8.2" text-anchor="middle" fill="#1a1a1a" stroke="#1a1a1a" ><tspan font-size="6.7" dy="-0.5">−</tspan><tspan dy="0.5">0.4</tspan></text>
<line x1="271.3" y1="387.8" x2="271.3" y2="390.4" stroke="#333" stroke-width="0.7" />
<text x="271.3" y="398.8" font-size="8.2" text-anchor="middle" fill="#1a1a1a" stroke="#1a1a1a" >0.0</text>
<line x1="306.98" y1="387.8" x2="306.98" y2="390.4" stroke="#333" stroke-width="0.7" />
<text x="306.98" y="398.8" font-size="8.2" text-anchor="middle" fill="#1a1a1a" stroke="#1a1a1a" >0.4</text>
<line x1="205.8" y1="231.35" x2="208.4" y2="231.35" stroke="#333" stroke-width="0.7" />
<text x="203.2" y="234.55" font-size="8.2" text-anchor="end" fill="#1a1a1a" stroke="#1a1a1a" >1.0</text>
<line x1="205.8" y1="269.82" x2="208.4" y2="269.82" stroke="#333" stroke-width="0.7" />
<text x="203.2" y="273.02" font-size="8.2" text-anchor="end" fill="#1a1a1a" stroke="#1a1a1a" >0.5</text>
<line x1="205.8" y1="308.3" x2="208.4" y2="308.3" stroke="#333" stroke-width="0.7" />
<text x="203.2" y="311.5" font-size="8.2" text-anchor="end" fill="#1a1a1a" stroke="#1a1a1a" >0.0</text>
<line x1="205.8" y1="346.78" x2="208.4" y2="346.78" stroke="#333" stroke-width="0.7" />
<text x="203.2" y="349.98" font-size="8.2" text-anchor="end" fill="#1a1a1a" stroke="#1a1a1a" ><tspan font-size="6.7" dy="-0.5">−</tspan><tspan dy="0.5">0.5</tspan></text>
<line x1="205.8" y1="385.25" x2="208.4" y2="385.25" stroke="#333" stroke-width="0.7" />
<text x="203.2" y="388.45" font-size="8.2" text-anchor="end" fill="#1a1a1a" stroke="#1a1a1a" ><tspan font-size="6.7" dy="-0.5">−</tspan><tspan dy="0.5">1.0</tspan></text>
<text x="273" y="411.4" font-size="10.35" text-anchor="middle" fill="#1a1a1a" stroke="#1a1a1a" >Adenosine signaling (GSVA)</text>
<text transform="translate(182.4 308.5) rotate(-90)" font-size="10.35" text-anchor="middle" fill="#1a1a1a" stroke="#1a1a1a">CD8 exhaustion (GSVA)</text>
<text x="174.3" y="224.2" font-size="15.9" text-anchor="start" fill="#111" stroke="#111" font-weight="bold">D</text>
</g>
<g id="panelE">
<rect x="383" y="227.6" width="130.2" height="160.1" fill="#fff"/>
<line x1="383" y1="254.86" x2="513.2" y2="254.86" stroke="#eeeeee" stroke-width="0.6" />
<line x1="383" y1="294.82" x2="513.2" y2="294.82" stroke="#eeeeee" stroke-width="0.6" />
<line x1="383" y1="334.78" x2="513.2" y2="334.78" stroke="#eeeeee" stroke-width="0.6" />
<line x1="383" y1="374.74" x2="513.2" y2="374.74" stroke="#eeeeee" stroke-width="0.6" />
<line x1="418" y1="227.6" x2="418" y2="387.7" stroke="#e9e9e9" stroke-width="0.9" />
<line x1="477.5" y1="227.6" x2="477.5" y2="387.7" stroke="#e9e9e9" stroke-width="0.9" />
<line x1="383" y1="234.88" x2="513.2" y2="234.88" stroke="#e9e9e9" stroke-width="0.9" />
<line x1="383" y1="274.84" x2="513.2" y2="274.84" stroke="#e9e9e9" stroke-width="0.9" />
<line x1="383" y1="314.8" x2="513.2" y2="314.8" stroke="#e9e9e9" stroke-width="0.9" />
<line x1="383" y1="354.76" x2="513.2" y2="354.76" stroke="#e9e9e9" stroke-width="0.9" />
<line x1="418" y1="258.5" x2="418" y2="284.5" stroke="#3672b4" stroke-width="1.1" />
<line x1="418" y1="313" x2="418" y2="334.3" stroke="#3672b4" stroke-width="1.1" />
<rect x="395.1" y="284.5" width="45.5" height="28.7" fill="#7caedd" fill-opacity="0.85" stroke="#3672b4" stroke-width="1.1"/>
<line x1="395.1" y1="302" x2="440.6" y2="302" stroke="#3672b4" stroke-width="1.8" />
<circle cx="411.5" cy="258.5" r="3.3" fill="#2f78bd"/>
<circle cx="412.1" cy="281.7" r="3.3" fill="#2f78bd"/>
<circle cx="425.8" cy="292.5" r="3.3" fill="#2f78bd"/>
<circle cx="414.7" cy="313.4" r="3.3" fill="#2f78bd"/>
<circle cx="419" cy="311.4" r="3.3" fill="#2f78bd"/>
<circle cx="410.5" cy="334.6" r="3.3" fill="#2f78bd"/>
<line x1="477.5" y1="280.5" x2="477.5" y2="322.2" stroke="#f2bf2f" stroke-width="1.1" />
<line x1="477.5" y1="350" x2="477.5" y2="369.3" stroke="#f2bf2f" stroke-width="1.1" />
<rect x="454.6" y="322.2" width="45.1" height="27.8" fill="#f8dc85" fill-opacity="0.9" stroke="#f2bf2f" stroke-width="1.1"/>
<line x1="454.6" y1="327.8" x2="499.7" y2="327.8" stroke="#f2bf2f" stroke-width="1.8" />
<circle cx="485.3" cy="281.7" r="3.3" fill="#f3bf2c"/>
<circle cx="467" cy="321.2" r="3.3" fill="#f3bf2c"/>
<circle cx="475.2" cy="329.1" r="3.3" fill="#f3bf2c"/>
<circle cx="484.7" cy="326.1" r="3.3" fill="#f3bf2c"/>
<circle cx="476.8" cy="356.6" r="3.3" fill="#f3bf2c"/>
<circle cx="476.2" cy="369.3" r="3.3" fill="#f3bf2c"/>
<path d="M418 256.8V253.6H477.5V256.8" fill="none" stroke="#4f74a6" stroke-width="0.9"/>
<text x="447.4" y="250.5" font-size="10" text-anchor="middle" fill="#5582b8" stroke="#5582b8" >0.093</text>
<rect x="383" y="227.6" width="130.2" height="160.1" fill="none" stroke="#808080" stroke-width="0.9"/>
<line x1="418" y1="387.7" x2="418" y2="390.3" stroke="#333" stroke-width="0.7" />
<text x="418" y="398.7" font-size="8.2" text-anchor="middle" fill="#1a1a1a" stroke="#1a1a1a" >A2AR WT</text>
<line x1="477.5" y1="387.7" x2="477.5" y2="390.3" stroke="#333" stroke-width="0.7" />
<text x="477.5" y="398.7" font-size="8.2" text-anchor="middle" fill="#1a1a1a" stroke="#1a1a1a" >A2AR KO</text>
<line x1="380.4" y1="234.88" x2="383" y2="234.88" stroke="#333" stroke-width="0.7" />
<text x="377.8" y="238.08" font-size="8.2" text-anchor="end" fill="#1a1a1a" stroke="#1a1a1a" >0.6</text>
<line x1="380.4" y1="274.84" x2="383" y2="274.84" stroke="#333" stroke-width="0.7" />
<text x="377.8" y="278.04" font-size="8.2" text-anchor="end" fill="#1a1a1a" stroke="#1a1a1a" >0.3</text>
<line x1="380.4" y1="314.8" x2="383" y2="314.8" stroke="#333" stroke-width="0.7" />
<text x="377.8" y="318" font-size="8.2" text-anchor="end" fill="#1a1a1a" stroke="#1a1a1a" >0.0</text>
<line x1="380.4" y1="354.76" x2="383" y2="354.76" stroke="#333" stroke-width="0.7" />
<text x="377.8" y="357.96" font-size="8.2" text-anchor="end" fill="#1a1a1a" stroke="#1a1a1a" ><tspan font-size="6.7" dy="-0.5">−</tspan><tspan dy="0.5">0.3</tspan></text>
<text transform="translate(356.5 307) rotate(-90)" font-size="10.35" text-anchor="middle" fill="#1a1a1a" stroke="#1a1a1a">Adenosine signaling (GSVA)</text>
<text x="349.2" y="224.2" font-size="15.9" text-anchor="start" fill="#111" stroke="#111" font-weight="bold">E</text>
</g>
<g id="panelF">
<rect x="34" y="449.6" width="143.3" height="161" fill="#fff"/>
<line x1="34" y1="463.35" x2="177.3" y2="463.35" stroke="#eeeeee" stroke-width="0.6" />
<line x1="34" y1="498.85" x2="177.3" y2="498.85" stroke="#eeeeee" stroke-width="0.6" />
<line x1="34" y1="534.35" x2="177.3" y2="534.35" stroke="#eeeeee" stroke-width="0.6" />
<line x1="34" y1="569.85" x2="177.3" y2="569.85" stroke="#eeeeee" stroke-width="0.6" />
<line x1="34" y1="605.35" x2="177.3" y2="605.35" stroke="#eeeeee" stroke-width="0.6" />
<line x1="73" y1="449.6" x2="73" y2="610.6" stroke="#e9e9e9" stroke-width="0.9" />
<line x1="138.5" y1="449.6" x2="138.5" y2="610.6" stroke="#e9e9e9" stroke-width="0.9" />
<line x1="34" y1="481.1" x2="177.3" y2="481.1" stroke="#e9e9e9" stroke-width="0.9" />
<line x1="34" y1="516.6" x2="177.3" y2="516.6" stroke="#e9e9e9" stroke-width="0.9" />
<line x1="34" y1="552.1" x2="177.3" y2="552.1" stroke="#e9e9e9" stroke-width="0.9" />
<line x1="34" y1="587.6" x2="177.3" y2="587.6" stroke="#e9e9e9" stroke-width="0.9" />
<line x1="73" y1="481" x2="138.5" y2="456.3" stroke="#c5d93c" stroke-width="3.5" stroke-linecap="round"/>
<line x1="73" y1="481" x2="138.5" y2="603.5" stroke="#6fc7db" stroke-width="3.5" stroke-linecap="round"/>
<line x1="73" y1="481" x2="138.5" y2="508.5" stroke="#f0a92c" stroke-width="3.5" stroke-linecap="round"/>
<line x1="73" y1="481" x2="138.5" y2="515.5" stroke="#7c1d4f" stroke-width="3.5" stroke-linecap="round"/>
<line x1="73" y1="481" x2="138.5" y2="555.3" stroke="#3e4244" stroke-width="3.5" stroke-linecap="round"/>
<line x1="73" y1="481" x2="138.5" y2="459.6" stroke="#32194c" stroke-width="3.5" stroke-linecap="round"/>
<line x1="73" y1="481" x2="138.5" y2="494.6" stroke="#1f3a67" stroke-width="3.5" stroke-linecap="round"/>
<circle cx="138.5" cy="456.3" r="3.5" fill="#c5d93c"/>
<circle cx="138.5" cy="603.5" r="3.5" fill="#6fc7db"/>
<circle cx="138.5" cy="508.5" r="3.5" fill="#f0a92c"/>
<circle cx="138.5" cy="515.5" r="3.5" fill="#7c1d4f"/>
<circle cx="138.5" cy="555.3" r="3.5" fill="#3e4244"/>
<circle cx="138.5" cy="459.6" r="3.5" fill="#32194c"/>
<circle cx="138.5" cy="494.6" r="3.5" fill="#1f3a67"/>
<circle cx="73" cy="481" r="3.5" fill="#32194c"/>
<rect x="34" y="449.6" width="143.3" height="161" fill="none" stroke="#808080" stroke-width="0.9"/>
<rect x="34" y="434" width="143.3" height="15.6" fill="#d9d9d9" stroke="#808080" stroke-width="0.9"/>
<text x="105.65" y="445" font-size="8.2" text-anchor="middle" fill="#2a2a2a" stroke="#2a2a2a" style="stroke-width:0.15px">Adenosine</text>
<line x1="73" y1="610.6" x2="73" y2="613.2" stroke="#333" stroke-width="0.7" />
<text x="73" y="621.1" font-size="8.7" text-anchor="middle" fill="#1a1a1a" stroke="#1a1a1a" >Pre</text>
<line x1="138.5" y1="610.6" x2="138.5" y2="613.2" stroke="#333" stroke-width="0.7" />
<text x="138.5" y="621.1" font-size="8.7" text-anchor="middle" fill="#1a1a1a" stroke="#1a1a1a" >Post</text>
<line x1="31.4" y1="481.1" x2="34" y2="481.1" stroke="#333" stroke-width="0.7" />
<text x="28.8" y="484.3" font-size="8.2" text-anchor="end" fill="#1a1a1a" stroke="#1a1a1a" >0.0</text>
<line x1="31.4" y1="516.6" x2="34" y2="516.6" stroke="#333" stroke-width="0.7" />
<text x="28.8" y="519.8" font-size="8.2" text-anchor="end" fill="#1a1a1a" stroke="#1a1a1a" ><tspan font-size="6.7" dy="-0.5">−</tspan><tspan dy="0.5">0.1</tspan></text>
<line x1="31.4" y1="552.1" x2="34" y2="552.1" stroke="#333" stroke-width="0.7" />
<text x="28.8" y="555.3" font-size="8.2" text-anchor="end" fill="#1a1a1a" stroke="#1a1a1a" ><tspan font-size="6.7" dy="-0.5">−</tspan><tspan dy="0.5">0.2</tspan></text>
<line x1="31.4" y1="587.6" x2="34" y2="587.6" stroke="#333" stroke-width="0.7" />
<text x="28.8" y="590.8" font-size="8.2" text-anchor="end" fill="#1a1a1a" stroke="#1a1a1a" ><tspan font-size="6.7" dy="-0.5">−</tspan><tspan dy="0.5">0.3</tspan></text>
<rect x="199" y="449.6" width="143.7" height="161" fill="#fff"/>
<line x1="199" y1="579.25" x2="342.7" y2="579.25" stroke="#eeeeee" stroke-width="0.6" />
<line x1="199" y1="539.75" x2="342.7" y2="539.75" stroke="#eeeeee" stroke-width="0.6" />
<line x1="199" y1="500.25" x2="342.7" y2="500.25" stroke="#eeeeee" stroke-width="0.6" />
<line x1="199" y1="460.75" x2="342.7" y2="460.75" stroke="#eeeeee" stroke-width="0.6" />
<line x1="238.2" y1="449.6" x2="238.2" y2="610.6" stroke="#e9e9e9" stroke-width="0.9" />
<line x1="303.8" y1="449.6" x2="303.8" y2="610.6" stroke="#e9e9e9" stroke-width="0.9" />
<line x1="199" y1="599" x2="342.7" y2="599" stroke="#e9e9e9" stroke-width="0.9" />
<line x1="199" y1="559.5" x2="342.7" y2="559.5" stroke="#e9e9e9" stroke-width="0.9" />
<line x1="199" y1="520" x2="342.7" y2="520" stroke="#e9e9e9" stroke-width="0.9" />
<line x1="199" y1="480.5" x2="342.7" y2="480.5" stroke="#e9e9e9" stroke-width="0.9" />
<line x1="238.2" y1="599" x2="303.8" y2="603.4" stroke="#c5d93c" stroke-width="3.5" stroke-linecap="round"/>
<line x1="238.2" y1="599" x2="303.8" y2="498.5" stroke="#6fc7db" stroke-width="3.5" stroke-linecap="round"/>
<line x1="238.2" y1="599" x2="303.8" y2="544.5" stroke="#f0a92c" stroke-width="3.5" stroke-linecap="round"/>
<line x1="238.2" y1="599" x2="303.8" y2="599.4" stroke="#7c1d4f" stroke-width="3.5" stroke-linecap="round"/>
<line x1="238.2" y1="599" x2="303.8" y2="579.4" stroke="#3e4244" stroke-width="3.5" stroke-linecap="round"/>
<line x1="238.2" y1="599" x2="303.8" y2="559.8" stroke="#32194c" stroke-width="3.5" stroke-linecap="round"/>
<line x1="238.2" y1="599" x2="303.8" y2="456.9" stroke="#1f3a67" stroke-width="3.5" stroke-linecap="round"/>
<circle cx="303.8" cy="603.4" r="3.5" fill="#c5d93c"/>
<circle cx="303.8" cy="498.5" r="3.5" fill="#6fc7db"/>
<circle cx="303.8" cy="544.5" r="3.5" fill="#f0a92c"/>
<circle cx="303.8" cy="599.4" r="3.5" fill="#7c1d4f"/>
<circle cx="303.8" cy="579.4" r="3.5" fill="#3e4244"/>
<circle cx="303.8" cy="559.8" r="3.5" fill="#32194c"/>
<circle cx="303.8" cy="456.9" r="3.5" fill="#1f3a67"/>
<circle cx="238.2" cy="599" r="3.5" fill="#32194c"/>
<rect x="199" y="449.6" width="143.7" height="161" fill="none" stroke="#808080" stroke-width="0.9"/>
<rect x="199" y="434" width="143.7" height="15.6" fill="#d9d9d9" stroke="#808080" stroke-width="0.9"/>
<text x="270.85" y="445" font-size="8.2" text-anchor="middle" fill="#2a2a2a" stroke="#2a2a2a" style="stroke-width:0.15px">Cytotoxicity</text>
<line x1="238.2" y1="610.6" x2="238.2" y2="613.2" stroke="#333" stroke-width="0.7" />
<text x="238.2" y="621.1" font-size="8.7" text-anchor="middle" fill="#1a1a1a" stroke="#1a1a1a" >Pre</text>
<line x1="303.8" y1="610.6" x2="303.8" y2="613.2" stroke="#333" stroke-width="0.7" />
<text x="303.8" y="621.1" font-size="8.7" text-anchor="middle" fill="#1a1a1a" stroke="#1a1a1a" >Post</text>
<line x1="196.4" y1="599" x2="199" y2="599" stroke="#333" stroke-width="0.7" />
<text x="193.8" y="602.2" font-size="8.2" text-anchor="end" fill="#1a1a1a" stroke="#1a1a1a" >0.0</text>
<line x1="196.4" y1="559.5" x2="199" y2="559.5" stroke="#333" stroke-width="0.7" />
<text x="193.8" y="562.7" font-size="8.2" text-anchor="end" fill="#1a1a1a" stroke="#1a1a1a" >0.2</text>
<line x1="196.4" y1="520" x2="199" y2="520" stroke="#333" stroke-width="0.7" />
<text x="193.8" y="523.2" font-size="8.2" text-anchor="end" fill="#1a1a1a" stroke="#1a1a1a" >0.4</text>
<line x1="196.4" y1="480.5" x2="199" y2="480.5" stroke="#333" stroke-width="0.7" />
<text x="193.8" y="483.7" font-size="8.2" text-anchor="end" fill="#1a1a1a" stroke="#1a1a1a" >0.6</text>
<rect x="369" y="449.6" width="144" height="161" fill="#fff"/>
<line x1="369" y1="583.65" x2="513" y2="583.65" stroke="#eeeeee" stroke-width="0.6" />
<line x1="369" y1="553.15" x2="513" y2="553.15" stroke="#eeeeee" stroke-width="0.6" />
<line x1="369" y1="522.65" x2="513" y2="522.65" stroke="#eeeeee" stroke-width="0.6" />
<line x1="369" y1="492.15" x2="513" y2="492.15" stroke="#eeeeee" stroke-width="0.6" />
<line x1="369" y1="461.65" x2="513" y2="461.65" stroke="#eeeeee" stroke-width="0.6" />
<line x1="408.2" y1="449.6" x2="408.2" y2="610.6" stroke="#e9e9e9" stroke-width="0.9" />
<line x1="473.8" y1="449.6" x2="473.8" y2="610.6" stroke="#e9e9e9" stroke-width="0.9" />
<line x1="369" y1="598.9" x2="513" y2="598.9" stroke="#e9e9e9" stroke-width="0.9" />
<line x1="369" y1="568.4" x2="513" y2="568.4" stroke="#e9e9e9" stroke-width="0.9" />
<line x1="369" y1="537.9" x2="513" y2="537.9" stroke="#e9e9e9" stroke-width="0.9" />
<line x1="369" y1="507.4" x2="513" y2="507.4" stroke="#e9e9e9" stroke-width="0.9" />
<line x1="369" y1="476.9" x2="513" y2="476.9" stroke="#e9e9e9" stroke-width="0.9" />
<line x1="408.2" y1="568.4" x2="473.8" y2="603.4" stroke="#c5d93c" stroke-width="3.5" stroke-linecap="round"/>
<line x1="408.2" y1="568.4" x2="473.8" y2="554.1" stroke="#6fc7db" stroke-width="3.5" stroke-linecap="round"/>
<line x1="408.2" y1="568.4" x2="473.8" y2="494.2" stroke="#f0a92c" stroke-width="3.5" stroke-linecap="round"/>
<line x1="408.2" y1="568.4" x2="473.8" y2="549.1" stroke="#7c1d4f" stroke-width="3.5" stroke-linecap="round"/>
<line x1="408.2" y1="568.4" x2="473.8" y2="496.9" stroke="#3e4244" stroke-width="3.5" stroke-linecap="round"/>
<line x1="408.2" y1="568.4" x2="473.8" y2="514.5" stroke="#32194c" stroke-width="3.5" stroke-linecap="round"/>
<line x1="408.2" y1="568.4" x2="473.8" y2="456.9" stroke="#1f3a67" stroke-width="3.5" stroke-linecap="round"/>
<circle cx="473.8" cy="603.4" r="3.5" fill="#c5d93c"/>
<circle cx="473.8" cy="554.1" r="3.5" fill="#6fc7db"/>
<circle cx="473.8" cy="494.2" r="3.5" fill="#f0a92c"/>
<circle cx="473.8" cy="549.1" r="3.5" fill="#7c1d4f"/>
<circle cx="473.8" cy="496.9" r="3.5" fill="#3e4244"/>
<circle cx="473.8" cy="514.5" r="3.5" fill="#32194c"/>
<circle cx="473.8" cy="456.9" r="3.5" fill="#1f3a67"/>
<circle cx="408.2" cy="568.4" r="3.5" fill="#32194c"/>
<rect x="369" y="449.6" width="144" height="161" fill="none" stroke="#808080" stroke-width="0.9"/>
<rect x="369" y="434" width="144" height="15.6" fill="#d9d9d9" stroke="#808080" stroke-width="0.9"/>
<text x="441" y="445" font-size="8.2" text-anchor="middle" fill="#2a2a2a" stroke="#2a2a2a" style="stroke-width:0.15px" font-style="italic">IFNG</text>
<line x1="408.2" y1="610.6" x2="408.2" y2="613.2" stroke="#333" stroke-width="0.7" />
<text x="408.2" y="621.1" font-size="8.7" text-anchor="middle" fill="#1a1a1a" stroke="#1a1a1a" >Pre</text>
<line x1="473.8" y1="610.6" x2="473.8" y2="613.2" stroke="#333" stroke-width="0.7" />
<text x="473.8" y="621.1" font-size="8.7" text-anchor="middle" fill="#1a1a1a" stroke="#1a1a1a" >Post</text>
<line x1="366.4" y1="598.9" x2="369" y2="598.9" stroke="#333" stroke-width="0.7" />
<text x="363.8" y="602.1" font-size="8.2" text-anchor="end" fill="#1a1a1a" stroke="#1a1a1a" ><tspan font-size="6.7" dy="-0.5">−</tspan><tspan dy="0.5">0.1</tspan></text>
<line x1="366.4" y1="568.4" x2="369" y2="568.4" stroke="#333" stroke-width="0.7" />
<text x="363.8" y="571.6" font-size="8.2" text-anchor="end" fill="#1a1a1a" stroke="#1a1a1a" >0.0</text>
<line x1="366.4" y1="537.9" x2="369" y2="537.9" stroke="#333" stroke-width="0.7" />
<text x="363.8" y="541.1" font-size="8.2" text-anchor="end" fill="#1a1a1a" stroke="#1a1a1a" >0.1</text>
<line x1="366.4" y1="507.4" x2="369" y2="507.4" stroke="#333" stroke-width="0.7" />
<text x="363.8" y="510.6" font-size="8.2" text-anchor="end" fill="#1a1a1a" stroke="#1a1a1a" >0.2</text>
<line x1="366.4" y1="476.9" x2="369" y2="476.9" stroke="#333" stroke-width="0.7" />
<text x="363.8" y="480.1" font-size="8.2" text-anchor="end" fill="#1a1a1a" stroke="#1a1a1a" >0.3</text>
<text transform="translate(7.6 531) rotate(-90)" font-size="10.35" text-anchor="middle" fill="#1a1a1a" stroke="#1a1a1a">Change in signature score</text>
<text x="3" y="437.6" font-size="15.9" text-anchor="start" fill="#111" stroke="#111" font-weight="bold">F</text>
</g>
</svg></body></html>
